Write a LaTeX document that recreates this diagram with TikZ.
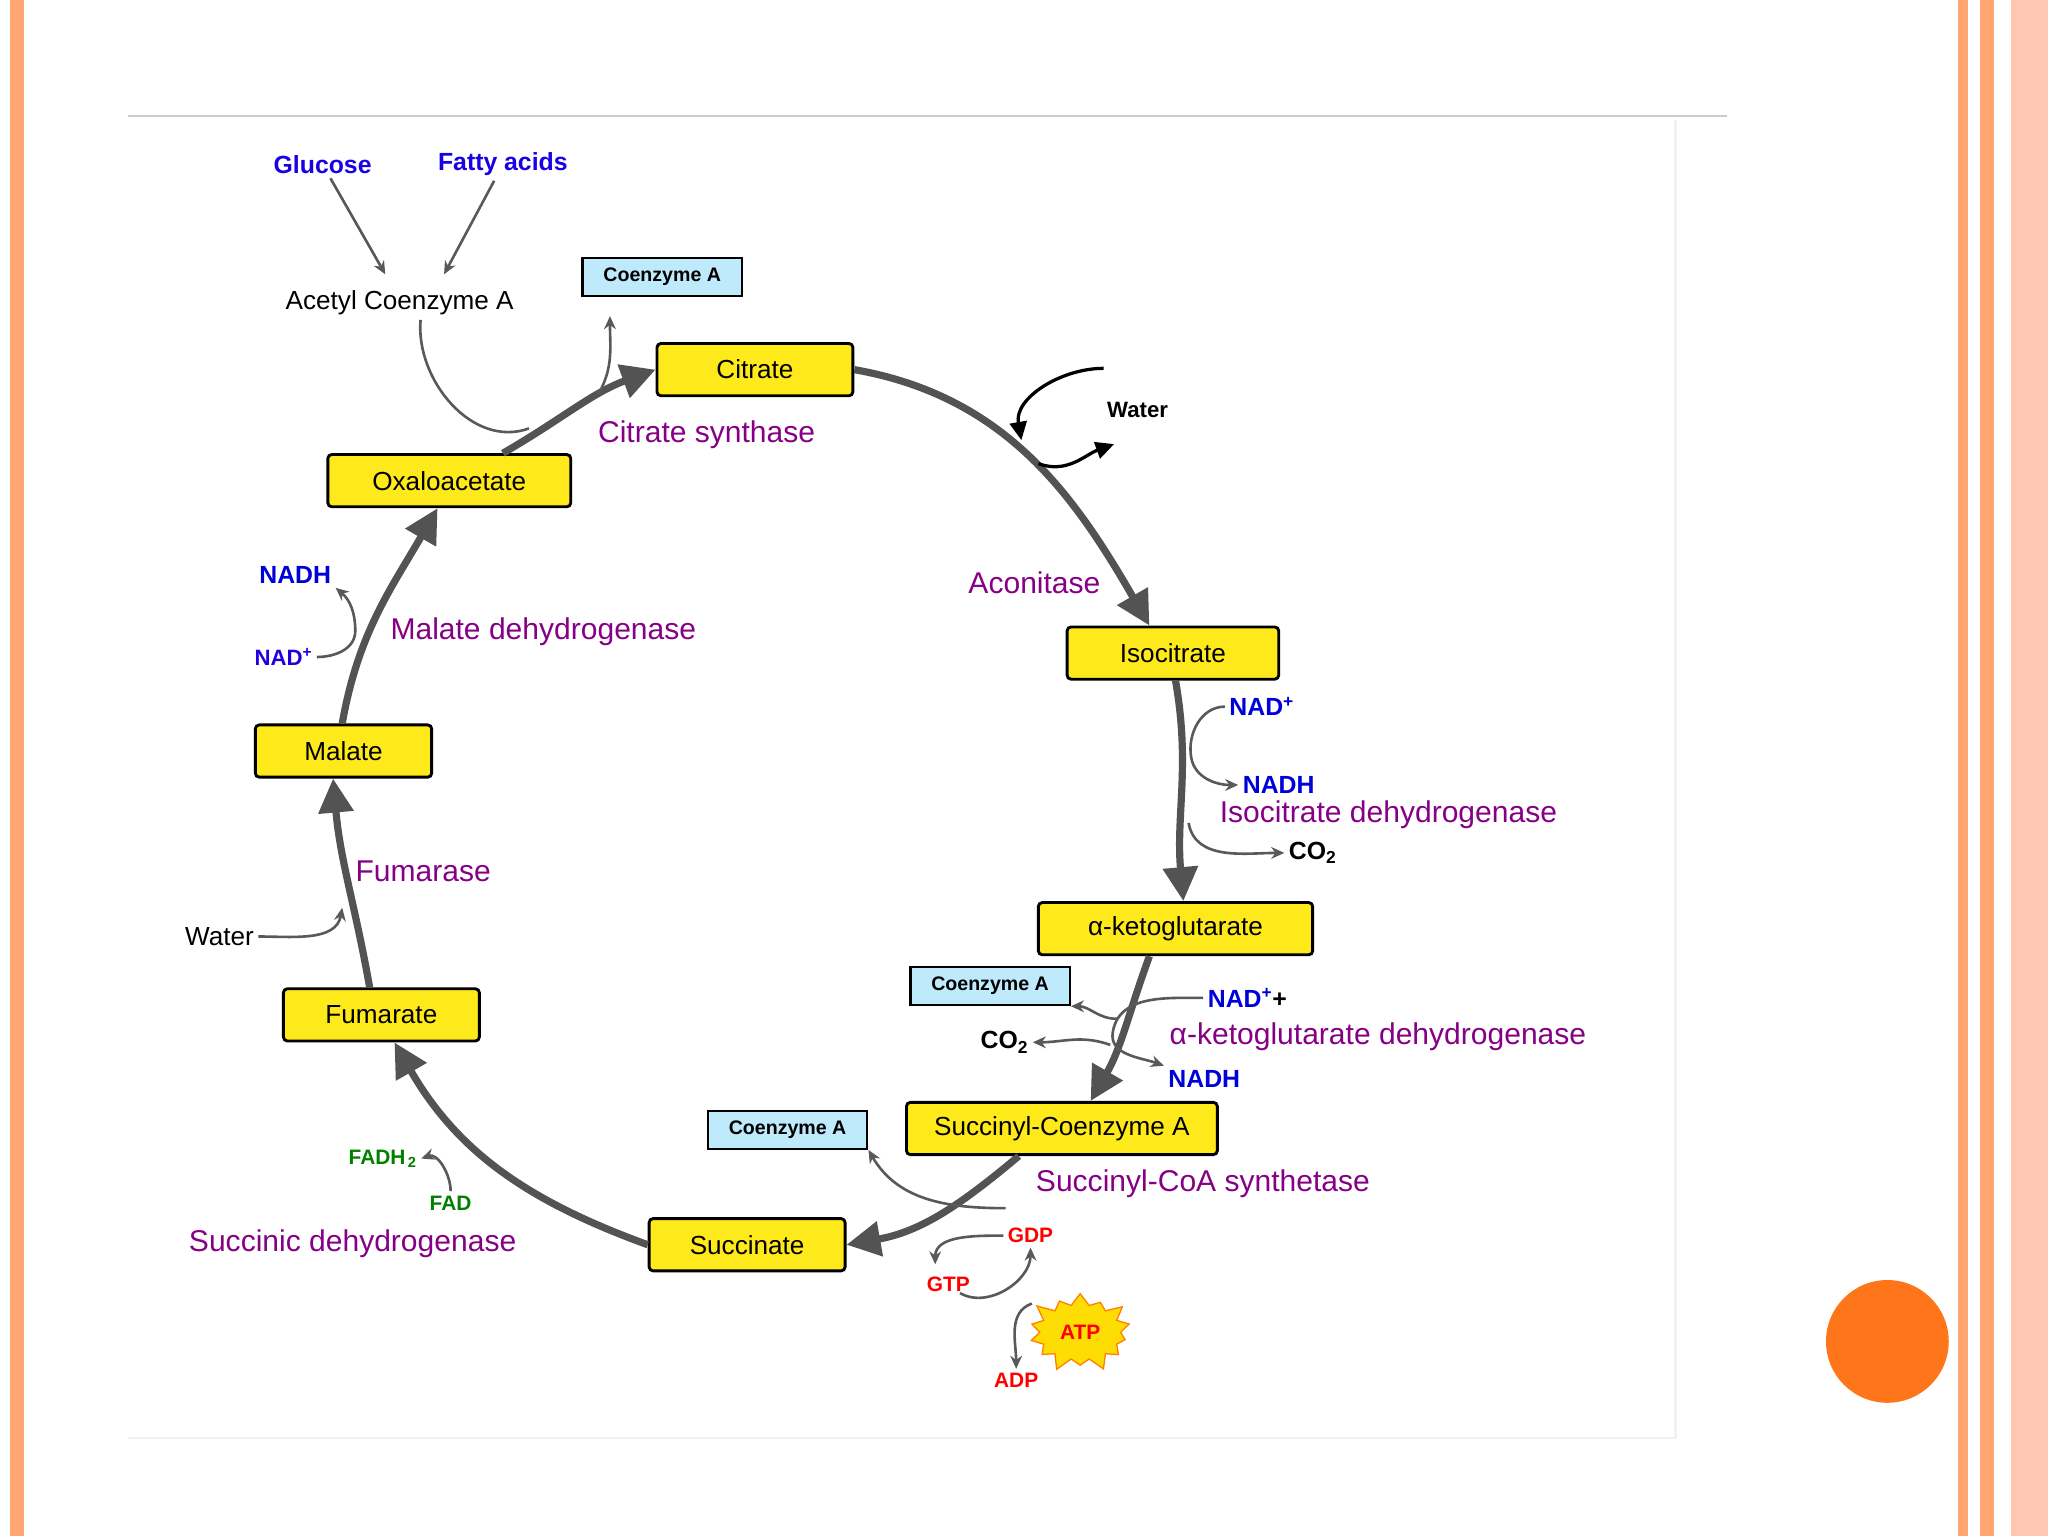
\documentclass[tikz,border=0pt]{standalone}
\usepackage{fontspec}
\setmainfont{Liberation Sans}
\usetikzlibrary{arrows.meta,shapes.symbols}

\begin{document}
\begin{tikzpicture}[x=1pt,y=-1pt,
    font=\fontsize{20}{24}\selectfont,
    cmpd/.style={draw=black,line width=2.2pt,fill=yellow!90!orange!90,rounded corners=3pt,
                 minimum height=40pt,inner sep=2pt},
    coa/.style={draw=black,line width=1.8pt,fill=cyan!25,minimum height=29pt,minimum width=122pt,
                font=\fontsize{15}{18}\selectfont\bfseries},
    enz/.style={text=violet!70!magenta!80!black,font=\fontsize{23}{27}\selectfont},
    sm/.style={font=\fontsize{19}{22}\selectfont\bfseries},
    cyc/.style={draw=gray!65!black,line width=5.5pt,-{Triangle[length=26pt,width=26pt]}},
    side/.style={draw=gray!70!black,line width=2pt,-{Stealth[length=10pt,width=9pt]}}]
  \useasboundingbox (0,0) rectangle (1568,1176);
  % slide decoration
  \fill[orange!40!pink] (8,0) rectangle (18,1176);
  \fill[orange!40!pink] (1499,0) rectangle (1507,1176);
  \fill[orange!40!pink] (1516,0) rectangle (1527,1176);
  \fill[orange!25!pink!70] (1540,0) rectangle (1568,1176);
  \fill[orange!80!red!90] (1445,1027) circle (47);
  \draw[gray!40,line width=1.5pt] (98,89) -- (1322,89);
  \draw[gray!10,line width=2pt] (98,1101) -- (1283,1101) -- (1283,92);

  % compounds
  \node[cmpd,minimum width=150pt] (cit) at (578,283) {Citrate};
  \node[cmpd,minimum width=162pt] (iso) at (898,500) {Isocitrate};
  \node[cmpd,minimum width=210pt] (akg) at (900,711) {α-ketoglutarate};
  \node[cmpd,minimum width=238pt] (sca) at (813,864) {Succinyl-Coenzyme A};
  \node[cmpd,minimum width=150pt] (suc) at (572,953) {Succinate};
  \node[cmpd,minimum width=150pt] (fum) at (292,777) {Fumarate};
  \node[cmpd,minimum width=135pt] (mal) at (263,575) {Malate};
  \node[cmpd,minimum width=186pt] (oaa) at (344,368) {Oxaloacetate};
  \node[coa] (coa1) at (507,212) {Coenzyme A};
  \node[coa] (coa2) at (758,755) {Coenzyme A};
  \node[coa] (coa3) at (603,865) {Coenzyme A};

  % inputs
  \node[sm,text=blue!80!violet] (glu) at (247,126) {Glucose};
  \node[sm,text=blue!80!violet] (fat) at (385,126) {Fatty acids};
  \node (acoa) at (306,232) {Acetyl Coenzyme A};

  % enzymes
  \node[enz] (cs) at (541,333) {Citrate synthase};
  \node[enz] (aco) at (792,446) {Aconitase};
  \node[enz] (idh) at (1063,624) {Isocitrate dehydrogenase};
  \node[enz] (kdh) at (1055,794) {α-ketoglutarate dehydrogenase};
  \node[enz] (scs) at (921,906) {Succinyl-CoA synthetase};
  \node[enz] (sdh) at (270,952) {Succinic dehydrogenase};
  \node[enz] (fmr) at (324,667) {Fumarase};
  \node[enz] (mdh) at (416,484) {Malate dehydrogenase};

  % cofactors
  \node[font=\fontsize{17}{20}\selectfont\bfseries] (wat1) at (871,314) {Water};
  \node[sm,text=blue!85!black] (nad1) at (966,541) {NAD\textsuperscript{+}};
  \node[sm,text=blue!85!black] (nadh1) at (979,601) {NADH};
  \node[sm] (co21) at (1005,653) {CO\textsubscript{2}};
  \node[sm,text=blue!85!black] (nad2) at (955,764) {NAD\textsuperscript{+}\textcolor{black}{ +}};
  \node[sm,text=blue!85!black] (nadh2) at (922,826) {NADH};
  \node[sm] (co22) at (769,798) {CO\textsubscript{2}};
  \node[font=\fontsize{16}{19}\selectfont\bfseries,text=red] (gdp) at (789,946) {GDP};
  \node[font=\fontsize{16}{19}\selectfont\bfseries,text=red] (gtp) at (726,983) {GTP};
  \node[font=\fontsize{16}{19}\selectfont\bfseries,text=red] (adp) at (778,1057) {ADP};
  \node[starburst,starburst points=14,starburst point height=12pt,fill=yellow!80!orange,
        draw=orange,line width=1pt,font=\fontsize{16}{19}\selectfont\bfseries,text=red,
        minimum width=86pt,minimum height=66pt,inner sep=0pt] (atp) at (827,1020) {ATP};
  \node[font=\fontsize{16}{19}\selectfont\bfseries,text=green!50!black] (fadh) at (293,887) {FADH\textsubscript{\,2}};
  \node[font=\fontsize{16}{19}\selectfont\bfseries,text=green!50!black] (fad) at (345,921) {FAD};
  \node[sm,text=blue!85!black] (nadh3) at (226,440) {NADH};
  \node[sm,text=blue!75!violet,font=\fontsize{17}{20}\selectfont\bfseries] (nad3) at (217,503) {NAD\textsuperscript{+}};
  \node (wat2) at (168,717) {Water};

  % main cycle
  \draw[cyc] (385,347) to[out=30,in=200] (cit.west);
  \draw[cyc] (cit.east) to[out=-10,in=120] (iso.north -| 880,0);
  \draw[cyc] (iso.south -| 900,0) to[out=-80,in=95] (akg.north -| 906,0);
  \draw[cyc] (akg.south -| 880,0) to[out=-110,in=60] (sca.north -| 835,0);
  \draw[cyc] (sca.south -| 780,0) to[out=-140,in=10] (suc.east);
  \draw[cyc] (suc.west) to[out=160,in=-60] (fum.south -| 302,0);
  \draw[cyc] (fum.north -| 283,0) to[out=100,in=-85] (mal.south -| 255,0);
  \draw[cyc] (mal.north -| 262,0) to[out=80,in=-120] (oaa.south -| 335,0);

  % side reactions
  \draw[side] (glu) -- (295,210);
  \draw[side] (fat) -- (340,210);
  \draw[gray!70!black,line width=2pt] (acoa.south -| 322,0) to[out=-95,in=200] (405,328);
  \draw[side] (458,302) to[out=60,in=-90] (467,242);
  \draw[black,line width=2.5pt,-{Triangle[length=14pt,width=13pt]}] (845,282) to[out=180,in=100] (782,337);
  \draw[black,line width=2.5pt,-{Triangle[length=14pt,width=13pt]}] (795,355) to[out=-20,in=200] (853,340);
  \draw[side] (nad1.west) to[out=180,in=100] (912,580) to[out=-80,in=180] (nadh1.west);
  \draw[side] (910,630) to[out=-80,in=180] (co21.west);
  \draw[side] (nad2.west) to[out=180,in=80] (852,790) to[out=-100,in=160] (nadh2.north west);
  \draw[side] (855,780) to[out=180,in=0] (coa2.south east);
  \draw[side] (850,800) to[out=160,in=0] (co22.east);
  \draw[side] (770,925) to[out=180,in=-60] (coa3.south east);
  \draw[side] (gdp.west) to[out=180,in=90] (716,968);
  \draw[side] (735,990) to[out=-30,in=-90] (gdp.south);
  \draw[side] (790,998) to[out=200,in=90] (adp.north);
  \draw[side] (fad.north) to[out=90,in=20] (fadh.east);
  \draw[side] (nad3.east) to[out=0,in=-90] (272,483) to[out=90,in=-40] (nadh3.south east);
  \draw[side] (wat2.east) to[out=0,in=-100] (262,695);
\end{tikzpicture}
\end{document}
